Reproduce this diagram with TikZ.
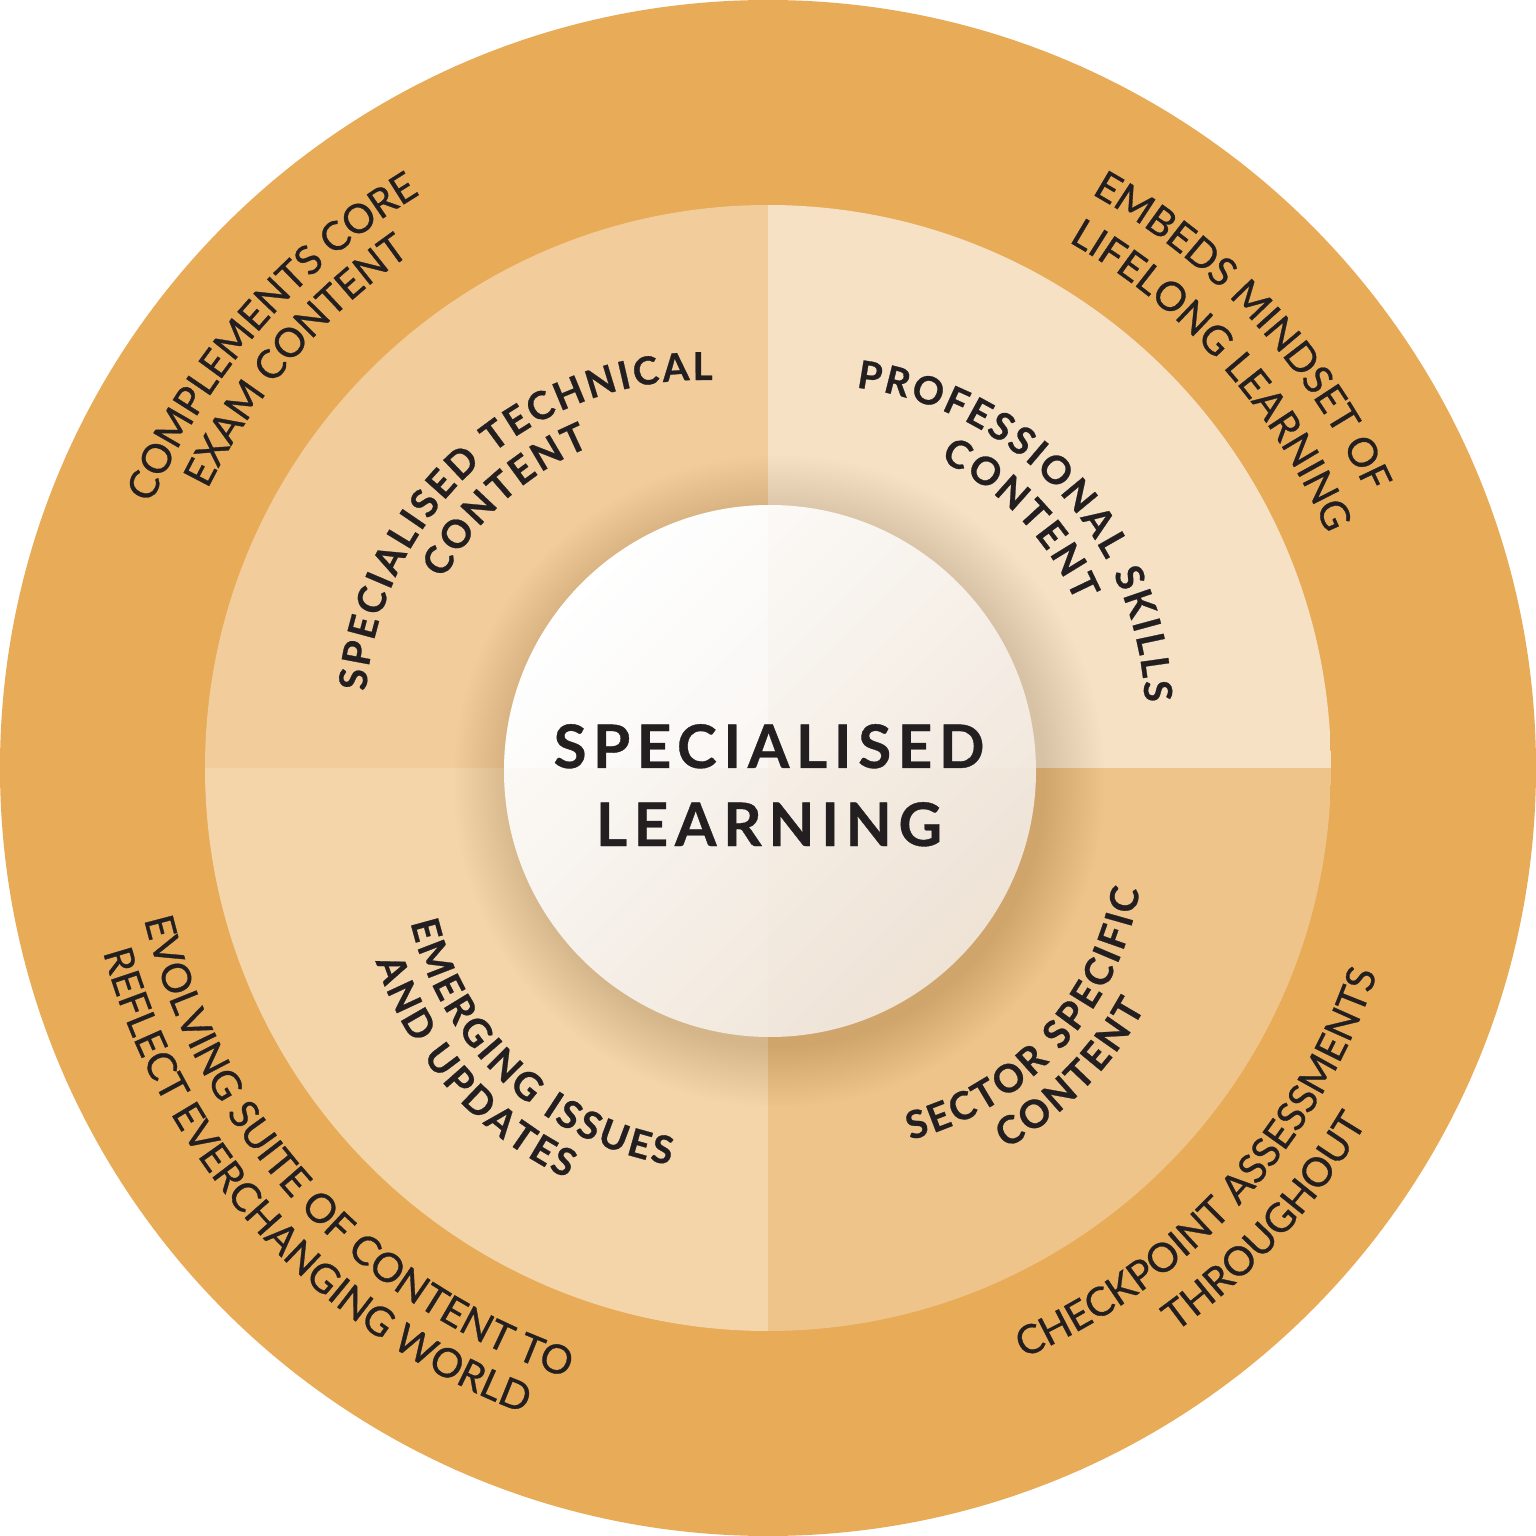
\documentclass[tikz,border=0pt]{standalone}
\usepackage{fontspec}
\setmainfont{Lato}
\newfontfamily\ctrfont{Lato}[LetterSpace=11,BoldFeatures={FakeBold=0.6}]
\newfontfamily\outerfont{Lato}[FakeBold=0.8]
\newfontfamily\innerfont{Lato}[BoldFeatures={FakeBold=0.7}]
\usetikzlibrary{calc}
\definecolor{ring}{HTML}{E8AB58}
\definecolor{qTL}{HTML}{F2CD9B}
\definecolor{qTR}{HTML}{F7E1C4}
\definecolor{qBL}{HTML}{F4D5AA}
\definecolor{qBR}{HTML}{EFC48B}
\definecolor{txt}{HTML}{231F20}
\definecolor{shadowcol}{HTML}{B8783A}
\definecolor{discend}{HTML}{EFE5DA}
\newcommand\ofont{\outerfont\fontsize{40}{44}\selectfont}
\newcommand\ifont{\innerfont\bfseries\fontsize{38.5}{42}\selectfont}
\newdimen\arcW
\newdimen\arcS
\newbox\arcbox
\newcommand\measurechar[2]{%
  \setbox\arcbox=\hbox{\pgfinterruptpicture#1#2\endpgfinterruptpicture}%
  \xdef\cw{\the\wd\arcbox}}
% #1 cx, #2 cy, #3 baseline radius, #4 mid angle,
% #5 direction (1 = top, clockwise; -1 = bottom, anticlockwise),
% #6 font, #7 letter spacing, #8 comma separated letters (~ = space)
\newcommand\arctext[8]{%
  \global\arcW=0pt
  \foreach \c in {#8}{%
    \measurechar{#6}{\c}%
    \global\advance\arcW by \cw
    \global\advance\arcW by #7\relax}%
  \global\advance\arcW by -#7\relax
  \global\arcS=-0.5\arcW
  \foreach \c in {#8}{%
    \measurechar{#6}{\c}%
    \edef\cs{\the\arcS}%
    \pgfmathsetmacro\ang{#4-(#5)*((\cs)+0.5*(\cw))/(#3)*57.29578}%
    \pgfmathsetmacro\rot{\ang-(#5)*90}%
    \node[font=#6,text=txt,anchor=base,inner sep=0pt,rotate=\rot] at ($(#1,#2)+(\ang:#3)$) {\c};
    \global\advance\arcS by \cw
    \global\advance\arcS by #7\relax}%
}
\begin{document}
\begin{tikzpicture}[x=1pt,y=1pt]
\useasboundingbox (-768,-768) rectangle (768,768);
% outer ring
\fill[ring] (0,0) circle (768);
% quadrants
\begin{scope}
  \clip (0,0) circle (563);
  \fill[qTL] (-563,0) rectangle (0,563);
  \fill[qTR] (0,0) rectangle (563,563);
  \fill[qBL] (-563,-563) rectangle (0,0);
  \fill[qBR] (0,-563) rectangle (563,0);
  % soft shadow of the centre disc
  \foreach \k in {0,...,30} {
    \fill[shadowcol,opacity=0.0058] (11,-13) circle ({266+\k*2});
  }
\end{scope}
% centre disc
\shade[top color=white,bottom color=discend,shading angle=45] (2,-3) circle (266);
\begin{scope}
  \clip (2,-3) circle (266);
  \fill[white,opacity=0.35] (-300,0) rectangle (0,300);
  \fill[qBR,opacity=0.06] (0,-300) rectangle (300,0);
  \fill[qTR,opacity=0.05] (0,0) rectangle (300,300);
  \fill[qBL,opacity=0.04] (-300,-300) rectangle (0,0);
\end{scope}
% centre title
\node[font=\ctrfont\bfseries\fontsize{60}{78}\selectfont,text=txt,anchor=base,inner sep=0pt] (title1) at (1,0) {SPECIALISED};
\node[font=\ctrfont\bfseries\fontsize{60}{78}\selectfont,text=txt,anchor=base,inner sep=0pt] (title2) at (1,-78) {LEARNING};
% inner quadrant texts
\arctext{-65}{50}{338}{131.9}{1}{\ifont}{2.8pt}{S,P,E,C,I,A,L,I,S,E,D,~,T,E,C,H,N,I,C,A,L}
\arctext{-65}{50}{294}{132.2}{1}{\ifont}{2.8pt}{C,O,N,T,E,N,T}
\arctext{47}{53}{330}{42.5}{1}{\ifont}{2.8pt}{P,R,O,F,E,S,S,I,O,N,A,L,~,S,K,I,L,L,S}
\arctext{47}{53}{284}{43.6}{1}{\ifont}{2.8pt}{C,O,N,T,E,N,T}
\arctext{64}{-70}{312}{-42.5}{-1}{\ifont}{2.8pt}{S,E,C,T,O,R,~,S,P,E,C,I,F,I,C}
\arctext{64}{-70}{356}{-44.6}{-1}{\ifont}{2.8pt}{C,O,N,T,E,N,T}
\arctext{-46}{-81}{320}{227}{-1}{\ifont}{2.8pt}{E,M,E,R,G,I,N,G,~,I,S,S,U,E,S}
\arctext{-46}{-81}{364}{221.4}{-1}{\ifont}{2.8pt}{A,N,D,~,U,P,D,A,T,E,S}
% outer ring texts
\arctext{0}{0}{671}{139}{1}{\ofont}{0pt}{C,O,M,P,L,E,M,E,N,T,S,~,C,O,R,E}
\arctext{0}{0}{626}{139.2}{1}{\ofont}{0pt}{E,X,A,M,~,C,O,N,T,E,N,T}
\arctext{0}{0}{659}{42.6}{1}{\ofont}{0pt}{E,M,B,E,D,S,~,M,I,N,D,S,E,T,~,O,F}
\arctext{0}{0}{606}{41.5}{1}{\ofont}{0pt}{L,I,F,E,L,O,N,G,~,L,E,A,R,N,I,N,G}
\arctext{0}{0}{642}{222.7}{-1}{\ofont}{0pt}{E,V,O,L,V,I,N,G,~,S,U,I,T,E,~,O,F,~,C,O,N,T,E,N,T,~,T,O}
\arctext{0}{0}{690}{222.4}{-1}{\ofont}{0pt}{R,E,F,L,E,C,T,~,E,V,E,R,C,H,A,N,G,I,N,G,~,W,O,R,L,D}
\arctext{0}{0}{643}{317.4}{-1}{\ofont}{0pt}{C,H,E,C,K,P,O,I,N,T,~,A,S,S,E,S,S,M,E,N,T,S}
\arctext{0}{0}{696}{317.6}{-1}{\ofont}{0pt}{T,H,R,O,U,G,H,O,U,T}
\end{tikzpicture}
\end{document}
